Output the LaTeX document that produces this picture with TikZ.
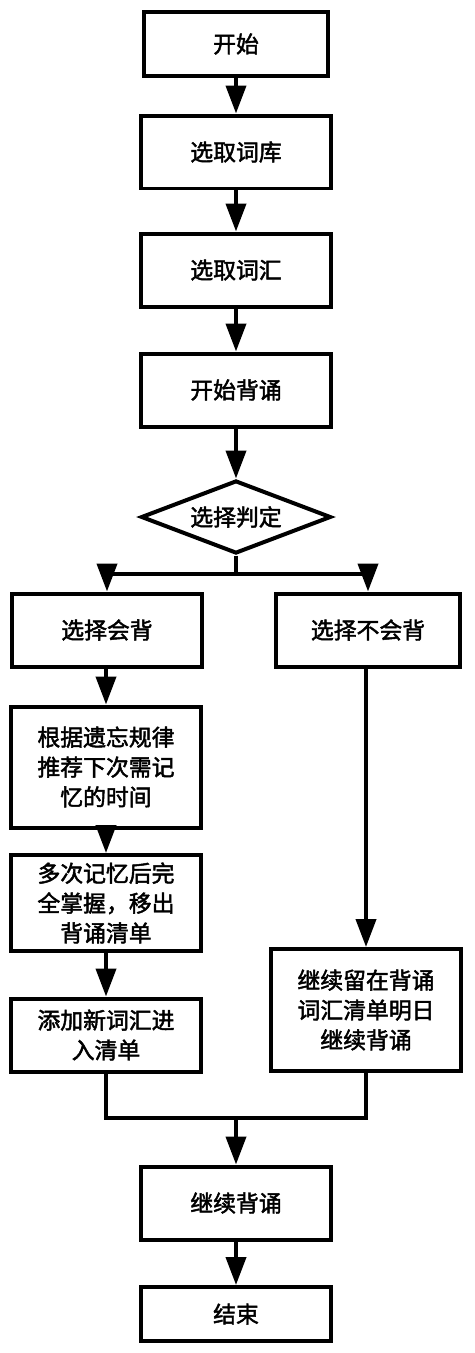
\documentclass[tikz,border=0pt]{standalone}
\usepackage{fontspec}
\setmainfont{Noto Sans CJK SC}[FakeBold=2]
\usetikzlibrary{arrows.meta,shapes.geometric}

\begin{document}
\begin{tikzpicture}[
    x=0.02cm, y=-0.02cm,
    box/.style={draw=black, line width=0.08cm, rectangle,
                minimum width=3.8cm, minimum height=1.46cm,
                font=\fontsize{13}{17}\selectfont, align=center,
                inner sep=2pt},
    judge/.style={draw=black, line width=0.08cm, diamond, aspect=2.5,
                  minimum width=3.8cm, minimum height=1.46cm,
                  font=\fontsize{13}{17}\selectfont, inner sep=0pt},
    line/.style={draw=black, line width=0.08cm},
    arr/.style={line, -{Triangle[length=0.56cm, width=0.4cm]}},
]
\useasboundingbox (0,0) rectangle (474,1353);

% Main column (top)
\node[box, minimum height=1.28cm, minimum width=3.68cm] (start) at (236,44) {开始};
\node[box] (lib) at (236,152) {选取词库};
\node[box] (words) at (236,270) {选取词汇};
\node[box] (recite) at (236,390) {开始背诵};
\node[judge] (decide) at (236,517) {选择判定};

\draw[arr] (start) -- (lib);
\draw[arr] (lib) -- (words);
\draw[arr] (words) -- (recite);
\draw[arr] (recite) -- (decide);

% Split into two branches
\coordinate (split) at (236,574);
\node[box] (know) at (107,630) {选择会背};
\node[box, minimum width=3.7cm] (notknow) at (368,630) {选择不会背};

\draw[line] (decide.south) -- (split);
\draw[arr] (split) -| (know.north);
\draw[arr] (split) -| (notknow.north);

% Left branch
\node[box, minimum height=2.42cm] (forget) at (106,767)
    {根据遗忘规律\\推荐下次需记\\忆的时间};
\node[box, minimum height=1.92cm] (master) at (106,903)
    {多次记忆后完\\全掌握，移出\\背诵清单};
\node[box] (addnew) at (106,1035)
    {添加新词汇进\\入清单};

\draw[arr] (know.south -| forget.north) -- (forget);
\draw[arr] (forget) -- (master);
\draw[arr] (master) -- (addnew);

% Right branch
\node[box, minimum height=2.44cm] (stay) at (366,1010)
    {继续留在背诵\\词汇清单明日\\继续背诵};

\draw[arr] (notknow.south -| stay.north) -- (stay);

% Merge and finish
\coordinate (join) at (236,1118);
\node[box] (cont) at (236,1203) {继续背诵};
\node[box, minimum height=1.08cm] (stop) at (236,1314) {结束};

\draw[line] (addnew.south) |- (join) -| (stay.south);
\draw[arr] (join) -- (cont);
\draw[arr] (cont) -- (stop);

\end{tikzpicture}
\end{document}
